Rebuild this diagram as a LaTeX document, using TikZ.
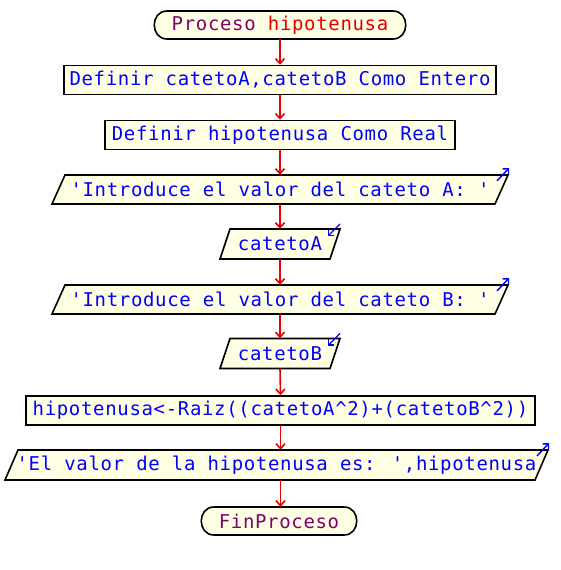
\documentclass[tikz,border=0pt]{standalone}
\usepackage{fontspec}
\usetikzlibrary{arrows.meta}
\newfontfamily\psmono[LetterSpace=3.5]{DejaVu Sans Mono}
\definecolor{boxfill}{RGB}{255,255,228}
\definecolor{txtblue}{RGB}{0,0,255}
\definecolor{kwpurple}{RGB}{128,0,110}
\definecolor{flowred}{RGB}{230,0,0}
\tikzset{
  txt/.style={inner sep=0pt, font=\psmono\fontsize{19}{22}\selectfont, text=txtblue},
  shapeline/.style={draw=black, line width=1.6pt, fill=boxfill, line join=miter},
  procbox/.style={txt, shapeline, inner sep=0pt},
  flow/.style={draw=flowred, line width=1.6pt, -{Straight Barb[length=5pt,width=9pt,line width=1.6pt]}},
  ioarrow/.style={draw=txtblue, line width=1.4pt, -{Straight Barb[length=4pt,width=8pt,line width=1.4pt]}}
}
% #1 name, #2 cx, #3 cy, #4 width, #5 height, #6 skew, #7 text
\newcommand{\ioshape}[7]{%
  \path[shapeline] ({#2-#4/2+#6},{#3-#5/2}) -- ({#2+#4/2},{#3-#5/2}) -- ({#2+#4/2-#6},{#3+#5/2}) -- ({#2-#4/2},{#3+#5/2}) -- cycle;
  \node[txt, minimum width=#4pt, minimum height=#5pt] (#1) at (#2,#3) {#7};
  \coordinate (#1-tr) at ({#2+#4/2},{#3-#5/2});
}
% #1 name, #2 x0, #3 x1, #4 top, #5 bottom, #6 text
\newcommand{\termshape}[6]{%
  \path[shapeline] ({#2+14},#4) -- ({#3-14},#4) .. controls ({#3+3},#4) and ({#3+3},#5) .. ({#3-14},#5) -- ({#2+14},#5) .. controls ({#2-3},#5) and ({#2-3},#4) .. ({#2+14},#4) -- cycle;
  \node[txt, text=kwpurple, minimum width={#3-#2}, minimum height={#5-#4}] (#1) at ({(#2+#3)/2},{(#4+#5)/2}) {#6};
}
\begin{document}
\begin{tikzpicture}[x=1pt,y=-1pt]
\useasboundingbox (0,0) rectangle (560,570);
% start
\termshape{start}{153}{407}{11}{39}{Proceso \textcolor{flowred}{hipotenusa}}
% definitions
\node[procbox, minimum width=432pt, minimum height=29pt] (def1) at (280,80) {Definir catetoA,catetoB Como Entero};
\node[procbox, minimum width=350pt, minimum height=29pt] (def2) at (280,135) {Definir hipotenusa Como Real};
% I/O
\ioshape{out1}{280}{189.5}{456}{29}{13}{'Introduce el valor del cateto A: '}
\ioshape{inA}{280}{244}{120}{30}{10}{catetoA}
\ioshape{out2}{280}{299.5}{456}{29}{13}{'Introduce el valor del cateto B: '}
\ioshape{inB}{280}{353.5}{120}{30}{10}{catetoB}
\node[procbox, minimum width=509pt, minimum height=29pt] (calc) at (280.5,410.5) {hipotenusa<-Raiz((catetoA\string^2)+(catetoB\string^2))};
\ioshape{out3}{276.5}{465}{543}{30}{13}{'El valor de la hipotenusa es: ',hipotenusa}
% end
\termshape{stop}{200}{358}{507}{535}{FinProceso}
% flow connectors
\draw[flow] (start.south) -- (def1.north);
\draw[flow] (def1.south) -- (def2.north);
\draw[flow] (def2.south) -- (out1.north);
\draw[flow] (out1.south) -- (inA.north);
\draw[flow] (inA.south) -- (out2.north);
\draw[flow] (out2.south) -- (inB.north);
\draw[flow] (inB.south) -- (calc.north);
\draw[flow] (calc.south) -- (out3.north -| calc.south);
\draw[flow] (out3.south -| calc.south) -- (stop.north -| calc.south);
% I/O marks
\draw[ioarrow] ([shift={(-11,6)}]out1-tr) -- ([shift={(1,-7)}]out1-tr);
\draw[ioarrow] ([shift={(-11,6)}]out2-tr) -- ([shift={(1,-7)}]out2-tr);
\draw[ioarrow] ([shift={(-11,6)}]out3-tr) -- ([shift={(1,-7)}]out3-tr);
\draw[ioarrow] ([shift={(0,-5)}]inA-tr) -- ([shift={(-12,7)}]inA-tr);
\draw[ioarrow] ([shift={(0,-5)}]inB-tr) -- ([shift={(-12,7)}]inB-tr);
\end{tikzpicture}
\end{document}
